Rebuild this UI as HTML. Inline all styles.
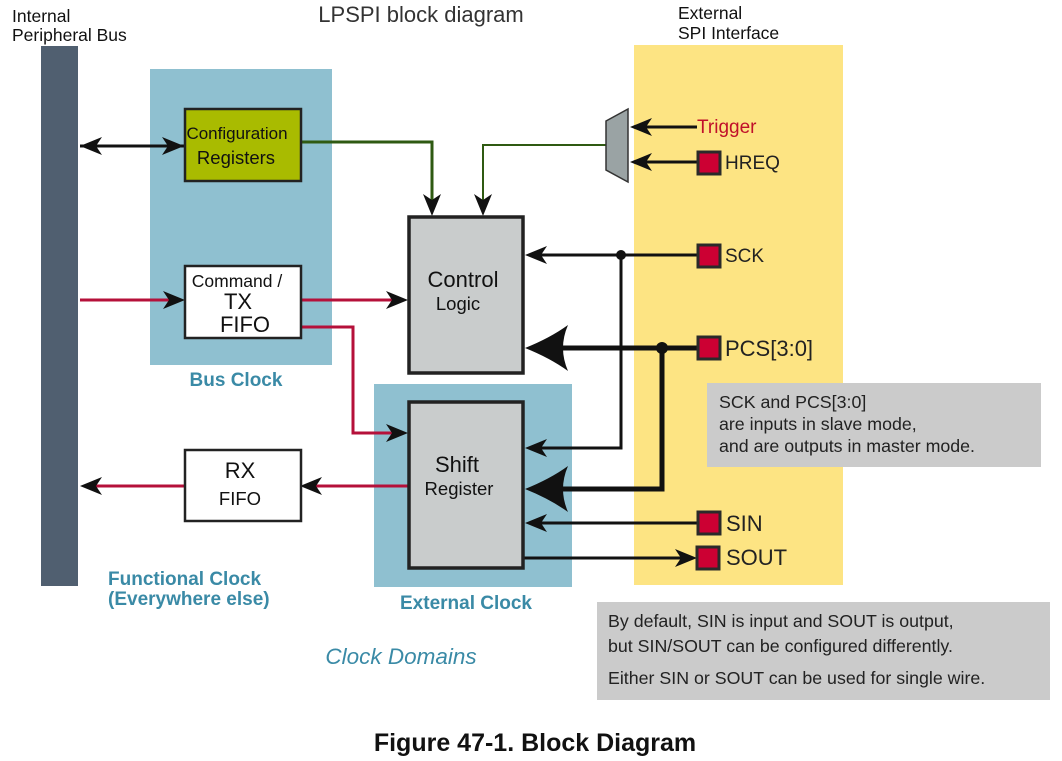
<!DOCTYPE html>
<html><head><meta charset="utf-8"><style>
html,body{margin:0;padding:0;background:#fff;}
svg{display:block;font-family:"Liberation Sans",sans-serif;}
</style></head><body>
<svg width="1062" height="761" viewBox="0 0 1062 761" xmlns="http://www.w3.org/2000/svg">
<rect x="634" y="45" width="209" height="540" fill="#fde483"/>
<rect x="150" y="69" width="182" height="296" fill="#8fc0d0"/>
<rect x="374" y="384" width="198" height="203" fill="#8fc0d0"/>
<rect x="41" y="46" width="37" height="540" fill="#505f70"/>
<rect x="707" y="383" width="334" height="84" fill="#cbcbcb"/>
<rect x="597" y="602" width="453" height="98" fill="#cbcbcb"/>

<text x="421" y="22" font-size="22" fill="#333" text-anchor="middle">LPSPI block diagram</text>
<text x="12" y="22" font-size="17.5" fill="#111">Internal</text>
<text x="12" y="41" font-size="17.5" fill="#111">Peripheral Bus</text>
<text x="678" y="19" font-size="17.5" fill="#111">External</text>
<text x="678" y="39" font-size="17.5" fill="#111">SPI Interface</text>

<g fill="none" stroke-linejoin="miter">
<line x1="80" y1="146" x2="184" y2="146" stroke="#111" stroke-width="3"/>
<polyline points="301,142 432,142 432,205" stroke="#2f5a12" stroke-width="3"/>
<polyline points="607,145 483,145 483,205" stroke="#2f5a12" stroke-width="2"/>
<line x1="80" y1="300" x2="175" y2="300" stroke="#b5103a" stroke-width="3"/>
<line x1="301" y1="300" x2="398" y2="300" stroke="#b5103a" stroke-width="3"/>
<polyline points="301,327 353,327 353,433 398,433" stroke="#b5103a" stroke-width="3"/>
<line x1="408" y1="486" x2="310" y2="486" stroke="#b5103a" stroke-width="3"/>
<line x1="185" y1="486" x2="90" y2="486" stroke="#b5103a" stroke-width="3"/>
<line x1="697" y1="255" x2="535" y2="255" stroke="#111" stroke-width="3"/>
<polyline points="621,255 621,448 535,448" stroke="#111" stroke-width="3"/>
<line x1="697" y1="348" x2="550" y2="348" stroke="#111" stroke-width="5"/>
<polyline points="662,348 662,489 550,489" stroke="#111" stroke-width="5"/>
<line x1="697" y1="523" x2="535" y2="523" stroke="#111" stroke-width="3"/>
<line x1="523" y1="558" x2="685" y2="558" stroke="#111" stroke-width="3"/>
<line x1="697" y1="127" x2="645" y2="127" stroke="#111" stroke-width="3"/>
<line x1="697" y1="162" x2="645" y2="162" stroke="#111" stroke-width="3"/>
</g>

<g fill="#111">
<path d="M80 146 L102 137 L96 146 L102 155 Z"/>
<path d="M184 146 L162 137 L168 146 L162 155 Z"/>
<path d="M432 216 L423 194 L432 200 L441 194 Z"/>
<path d="M483 216 L474 194 L483 200 L492 194 Z"/>
<path d="M185 300 L163 291 L169 300 L163 309 Z"/>
<path d="M408 300 L386 291 L392 300 L386 309 Z"/>
<path d="M408 433 L386 424 L392 433 L386 442 Z"/>
<path d="M300 486 L322 477 L316 486 L322 495 Z"/>
<path d="M80 486 L102 477 L96 486 L102 495 Z"/>
<path d="M525 255 L547 246 L541 255 L547 264 Z"/>
<path d="M525 448 L547 439 L541 448 L547 457 Z"/>
<path d="M525 523 L547 514 L541 523 L547 532 Z"/>
<path d="M697 558 L675 549 L681 558 L675 567 Z"/>
<path d="M525 348 Q550 338 568 325 Q558 348 568 371 Q550 358 525 348 Z"/>
<path d="M525 489 Q550 479 568 466 Q558 489 568 512 Q550 499 525 489 Z"/>
<path d="M630 127 L652 118 L646 127 L652 136 Z"/>
<path d="M630 162 L652 153 L646 162 L652 171 Z"/>
<circle cx="621" cy="255" r="5"/>
<circle cx="662" cy="348" r="6"/>
</g>

<polygon points="606,121 628,109 628,182 606,170" fill="#9aa3a4" stroke="#333" stroke-width="1.5"/>

<rect x="185" y="109" width="116" height="72" fill="#a9bb00" stroke="#222" stroke-width="2.5"/>
<text x="237" y="139" font-size="17" fill="#111" text-anchor="middle">Configuration</text>
<text x="236" y="164" font-size="18.5" fill="#111" text-anchor="middle">Registers</text>

<rect x="185" y="266" width="116" height="72" fill="#fff" stroke="#222" stroke-width="2.5"/>
<text x="237" y="287" font-size="17.5" fill="#111" text-anchor="middle">Command /</text>
<text x="238" y="309" font-size="22" fill="#111" text-anchor="middle">TX</text>
<text x="245" y="332" font-size="22" fill="#111" text-anchor="middle">FIFO</text>

<rect x="185" y="450" width="116" height="71" fill="#fff" stroke="#222" stroke-width="2.5"/>
<text x="240" y="478" font-size="22" fill="#111" text-anchor="middle">RX</text>
<text x="240" y="505" font-size="18.5" fill="#111" text-anchor="middle">FIFO</text>

<rect x="409" y="217" width="114" height="156" fill="#c9cccc" stroke="#222" stroke-width="3.5"/>
<text x="463" y="287" font-size="22" fill="#111" text-anchor="middle">Control</text>
<text x="458" y="310" font-size="18.5" fill="#111" text-anchor="middle">Logic</text>

<rect x="409" y="402" width="114" height="166" fill="#c9cccc" stroke="#222" stroke-width="3.5"/>
<text x="457" y="472" font-size="22" fill="#111" text-anchor="middle">Shift</text>
<text x="459" y="495" font-size="18.5" fill="#111" text-anchor="middle">Register</text>

<g fill="#cc0033" stroke="#2a2a2a" stroke-width="3">
<rect x="698" y="152" width="22" height="22"/>
<rect x="698" y="245" width="22" height="22"/>
<rect x="698" y="337" width="22" height="22"/>
<rect x="698" y="512" width="22" height="22"/>
<rect x="697" y="547" width="22" height="22"/>
</g>
<text x="697" y="133" font-size="19" fill="#c0102a">Trigger</text>
<text x="725" y="169" font-size="19" fill="#222">HREQ</text>
<text x="725" y="262" font-size="19" fill="#222">SCK</text>
<text x="725" y="356" font-size="22" fill="#222">PCS[3:0]</text>
<text x="726" y="531" font-size="22" fill="#222">SIN</text>
<text x="726" y="565" font-size="22" fill="#222">SOUT</text>

<g font-size="17.8" fill="#222">
<text x="719" y="408">SCK and PCS[3:0]</text>
<text x="719" y="430">are inputs in slave mode,</text>
<text x="719" y="452">and are outputs in master mode.</text>
<text x="608" y="627">By default, SIN is input and SOUT is output,</text>
<text x="608" y="652">but SIN/SOUT can be configured differently.</text>
<text x="608" y="684">Either SIN or SOUT can be used for single wire.</text>
</g>

<g font-size="19" font-weight="bold" fill="#3a8aa6">
<text x="236" y="386" text-anchor="middle">Bus Clock</text>
<text x="466" y="609" text-anchor="middle">External Clock</text>
<text x="108" y="585">Functional Clock</text>
<text x="108" y="605">(Everywhere else)</text>
</g>
<text x="401" y="664" font-size="22.5" font-style="italic" fill="#3a8aa6" text-anchor="middle">Clock Domains</text>
<text x="535" y="751" font-size="25" font-weight="bold" fill="#111" text-anchor="middle">Figure 47-1. Block Diagram</text>
</svg>
</body></html>
